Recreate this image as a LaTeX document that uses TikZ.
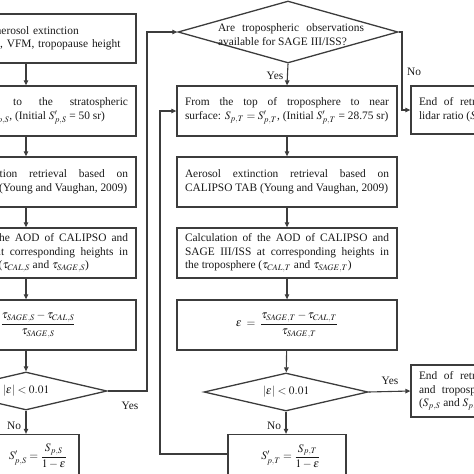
\documentclass[tikz,border=0pt]{standalone}
\usepackage{amsmath}
\usepackage{mathptmx}
\usepackage{fontspec}
\setmainfont{Liberation Serif}
\usetikzlibrary{arrows.meta,shapes.geometric}
\definecolor{linec}{RGB}{60,60,60}
\definecolor{txtc}{RGB}{25,25,25}
\newcommand\fs{\fontsize{11.4}{13.5}\selectfont}
\begin{document}
\begin{tikzpicture}[x=1pt,y=-1pt,font=\fs,text=txtc,
  lc/.style={draw=linec,line width=1.3pt},
  procbox/.style={lc,minimum width=220pt,minimum height=50pt,inner sep=0pt,text width=204pt,align=justify},
  endbox/.style={procbox},
  fbox/.style={lc,minimum height=44pt,inner sep=0pt},
  decis/.style={lc,diamond,inner sep=0pt},
  conn/.style={draw=linec,line width=1.1pt,-{Triangle[length=5pt,width=4.5pt]}},
  lab/.style={inner sep=0pt}]
\useasboundingbox (0,0) rectangle (474,474);
\clip (0,0) rectangle (474,474);

% left column
\node[procbox,minimum height=49pt,align=left] (L1) at (26,38.5)
  {\hspace*{4pt}SAGE III/ISS aerosol extinction\\\hspace*{3pt}CALIPSO TAB, VFM, tropopause height};
\node[procbox] (L2) at (26,111)
  {Implementation to the stratospheric\linebreak \mbox{region: $S_{p{,}S}=S'_{p{,}S}$, (Initial $S'_{p{,}S}$ = 50 sr)}};
\node[procbox] (L3) at (26,182)
  {Aerosol extinction retrieval based on\linebreak CALIPSO TAB (Young and Vaughan, 2009)};
\node[procbox] (L4) at (26,253)
  {Calculation of the AOD of CALIPSO and\linebreak SAGE III/ISS at corresponding heights in\linebreak the stratosphere ($\tau_{CAL{,}S}$ and $\tau_{SAGE{,}S}$)};
\node[procbox,align=center] (L5) at (26,325)
  {$\varepsilon=\dfrac{\tau_{SAGE{,}S}-\tau_{CAL{,}S}}{\tau_{SAGE{,}S}}$};
\node[decis,minimum width=162pt,minimum height=38pt] (LD) at (26,391) {};
\node[lab] (LDt) at (LD.center) {$|\varepsilon|<0.01$};
\node[fbox,minimum width=82pt] (LB) at (38,456.5) {\raisebox{3pt}{$S'_{p{,}S}=\dfrac{S_{p{,}S}}{1-\varepsilon}$}};

% right column
\node[decis,minimum width=220pt,minimum height=62pt] (R0) at (288,32) {};
\node[lab,text width=146pt,align=justify] (R0t) at (291,34.5)
  {Are tropospheric observations\linebreak available for SAGE III/ISS?};
\node[procbox] (R1) at (287,111)
  {From the top of troposphere to near\linebreak surface: $S_{p{,}T}=S'_{p{,}T}$, (Initial $S'_{p{,}T}$ = 28.75 sr)};
\node[procbox] (R2) at (287,182)
  {Aerosol extinction retrieval based on\linebreak CALIPSO TAB (Young and Vaughan, 2009)};
\node[procbox] (R3) at (287,253)
  {Calculation of the AOD of CALIPSO and\linebreak SAGE III/ISS at corresponding heights in\linebreak the troposphere ($\tau_{CAL{,}T}$ and $\tau_{SAGE{,}T}$)};
\node[procbox,align=center] (R4) at (287,325)
  {$\varepsilon=\dfrac{\tau_{SAGE{,}T}-\tau_{CAL{,}T}}{\tau_{SAGE{,}T}}$};
\node[decis,minimum width=164pt,minimum height=38pt] (RD) at (286,392) {};
\node[lab] (RDt) at (RD.center) {$|\varepsilon|<0.01$};
\node[fbox,minimum width=118pt] (RB) at (287,456.5) {\hspace*{8pt}\raisebox{3pt}{$S'_{p{,}T}=\dfrac{S_{p{,}T}}{1-\varepsilon}$}};

% end boxes
\node[endbox,minimum height=48pt] (E1) at (521,110)
  {End of retrieval, output the stratospheric\linebreak lidar ratio ($S_{p{,}S}$)};
\node[endbox,minimum height=52pt] (E2) at (521,391)
  {End of retrieval, output the stratospheric\linebreak and tropospheric lidar ratios, respectively\linebreak ($S_{p{,}S}$ and $S_{p{,}T}$)};

% coordinates
\coordinate (yesL) at (147,391);
\coordinate (noR) at (402,32);
\coordinate (fbR) at (160,454);

% connectors
\draw[conn] (L1) -- (L2);
\draw[conn] (L2) -- (L3);
\draw[conn] (L3) -- (L4);
\draw[conn] (L4) -- (L5);
\draw[conn] (L5) -- (LD);
\draw[conn] (LD.south) -- (LD.south |- LB.north);
\draw[conn] (LD.east) -- (yesL) |- (R0.west);
\draw[conn] (R0.south) -- (R1.north);
\draw[conn] (R0.east) -- (noR) |- (E1.west);
\draw[conn] (R1) -- (R2);
\draw[conn] (R2) -- (R3);
\draw[conn] (R3) -- (R4);
\draw[conn] (R4) -- (RD);
\draw[conn] (RD.south) -- (RD.south |- RB.north);
\draw[conn] (RD.east) -- (E2.west);
\draw[conn] (RB.west |- fbR) -- (fbR) |- (R1.west);

% labels
\node[lab] (yes1) at (275,76) {Yes};
\node[lab] (no1) at (414,72) {No};
\node[lab] (yes2) at (130,406) {Yes};
\node[lab] (no2) at (14,426) {No};
\node[lab] (yes3) at (390,381) {Yes};
\node[lab] (no3) at (274,426) {No};
\end{tikzpicture}
\end{document}
